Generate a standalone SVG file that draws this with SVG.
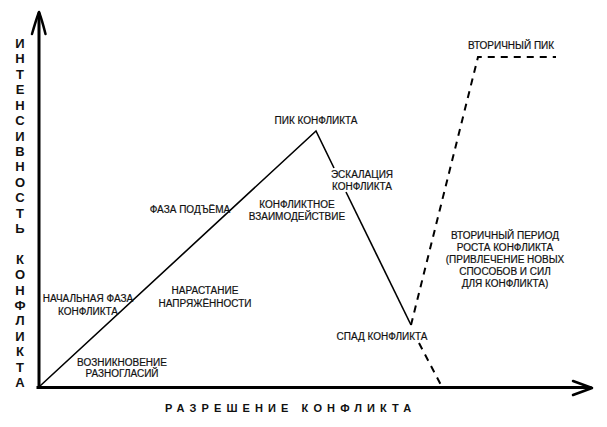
<svg xmlns="http://www.w3.org/2000/svg" width="607" height="427" viewBox="0 0 607 427">
<style>
.axis{stroke:#000;stroke-width:3;fill:none;stroke-linecap:square}
.head{stroke:#000;stroke-width:2.5;fill:none;stroke-linecap:round;stroke-linejoin:round}
.solid{stroke:#000;stroke-width:1.6;fill:none}
.dash{stroke:#000;stroke-width:2;fill:none;stroke-dasharray:7 6}
.lbl{font-family:"Liberation Sans",Arial,sans-serif;font-size:10px;fill:#111;stroke:#111;stroke-width:0.2;text-anchor:middle}
.ax{font-family:"Liberation Sans",Arial,sans-serif;font-weight:bold;fill:#111}
</style>
<rect width="607" height="427" fill="#fff"/>
<g id="axes">
<line class="axis" x1="39" y1="14" x2="39" y2="387.5"/>
<line class="axis" x1="38" y1="387.5" x2="590" y2="387.5"/>
<path class="head" d="M32,34 Q36,20 39,12 Q42,20 45.5,34"/>
<path class="head" d="M573,381 Q584,385 592,388 Q584,391 573,395"/>
</g>
<g id="axis-y-label">
<text class="ax" font-size="13" text-anchor="middle">
<tspan x="20" y="48">И</tspan><tspan x="20" y="63.4">Н</tspan><tspan x="20" y="78.8">Т</tspan><tspan x="20" y="94.2">Е</tspan><tspan x="20" y="109.6">Н</tspan><tspan x="20" y="125.1">С</tspan><tspan x="20" y="140.5">И</tspan><tspan x="20" y="155.9">В</tspan><tspan x="20" y="171.3">Н</tspan><tspan x="20" y="186.7">О</tspan><tspan x="20" y="202.1">С</tspan><tspan x="20" y="217.5">Т</tspan><tspan x="20" y="232.9">Ь</tspan><tspan x="20" y="263.7">К</tspan><tspan x="20" y="279.2">О</tspan><tspan x="20" y="294.6">Н</tspan><tspan x="20" y="310">Ф</tspan><tspan x="20" y="325.4">Л</tspan><tspan x="20" y="340.8">И</tspan><tspan x="20" y="356.2">К</tspan><tspan x="20" y="371.6">Т</tspan><tspan x="20" y="387">А</tspan>
</text>
</g>
<g id="axis-x-label">
<text class="ax" font-size="11" x="165" y="411.5" letter-spacing="5.1">РАЗРЕШЕНИЕ КОНФЛИКТА</text>
</g>
<g id="connectors">
<polyline class="solid" points="40,386 316,131 334,168"/>
<line class="solid" x1="346" y1="192" x2="411" y2="325"/>
<line class="dash" x1="419" y1="343" x2="442" y2="387"/>
<polyline class="dash" points="411,325 478,57 556,57"/>
</g>
<g id="secondary-peak"><text class="lbl" x="511" y="48.5">ВТОРИЧНЫЙ ПИК</text></g>
<g id="peak"><text class="lbl" x="316" y="124">ПИК КОНФЛИКТА</text></g>
<g id="escalation"><text class="lbl" x="362"><tspan x="362" y="177.5">ЭСКАЛАЦИЯ</tspan><tspan x="362" y="189.5">КОНФЛИКТА</tspan></text></g>
<g id="rise-phase"><text class="lbl" x="190" y="213">ФАЗА ПОДЪЁМА</text></g>
<g id="interaction"><text class="lbl"><tspan x="297" y="208">КОНФЛИКТНОЕ</tspan><tspan x="297" y="220">ВЗАИМОДЕЙСТВИЕ</tspan></text></g>
<g id="secondary-growth"><text class="lbl"><tspan x="505" y="238.5">ВТОРИЧНЫЙ ПЕРИОД</tspan><tspan x="505" y="251">РОСТА КОНФЛИКТА</tspan><tspan x="505" y="263">(ПРИВЛЕЧЕНИЕ НОВЫХ</tspan><tspan x="505" y="275">СПОСОБОВ И СИЛ</tspan><tspan x="505" y="287">ДЛЯ КОНФЛИКТА)</tspan></text></g>
<g id="initial-phase"><text class="lbl"><tspan x="88" y="302">НАЧАЛЬНАЯ ФАЗА</tspan><tspan x="88" y="315">КОНФЛИКТА</tspan></text></g>
<g id="tension"><text class="lbl"><tspan x="205" y="294">НАРАСТАНИЕ</tspan><tspan x="205" y="306.5">НАПРЯЖЁННОСТИ</tspan></text></g>
<g id="disagreement"><text class="lbl"><tspan x="122" y="365.5">ВОЗНИКНОВЕНИЕ</tspan><tspan x="122" y="377">РАЗНОГЛАСИЙ</tspan></text></g>
<g id="decline"><text class="lbl" x="382" y="340">СПАД КОНФЛИКТА</text></g>
</svg>
